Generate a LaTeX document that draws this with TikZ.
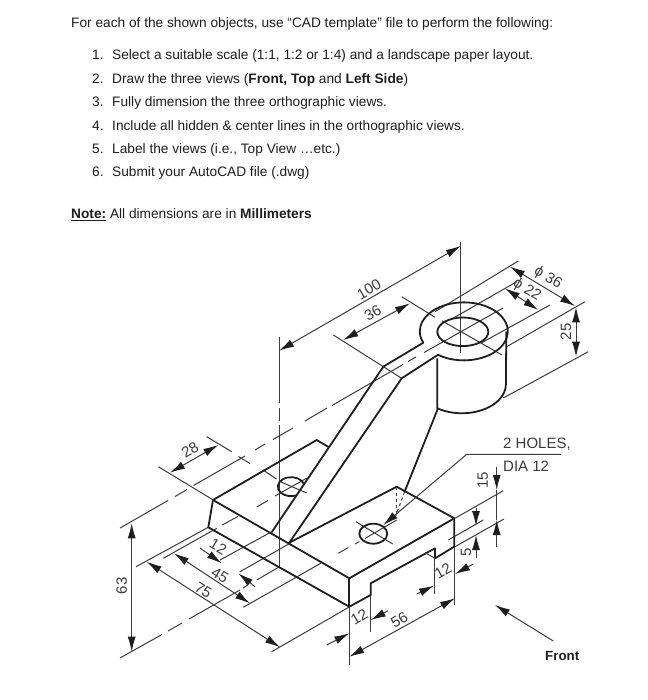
\documentclass[tikz,border=0pt]{standalone}
\usepackage{fontspec}
\setmainfont{Liberation Sans}
\usetikzlibrary{arrows.meta}
\definecolor{inkc}{HTML}{1E1E1E}
\definecolor{dimc}{HTML}{3C3C3C}
\begin{document}
\begin{tikzpicture}[x=1pt,y=-1pt,>={Latex[length=15pt,width=8pt,color=inkc]}]
	\tikzstyle{every node}=[font=\fontsize{15}{16}\selectfont,inner sep=0pt,text=dimc]
	\tikzstyle{txt}=[font=\fontsize{13.7}{16}\selectfont,anchor=base west,text=inkc]
	\tikzstyle{obj}=[line width=1.8pt,color=inkc,line join=round]
	\tikzstyle{dimline}=[line width=1pt,color=dimc]
	\useasboundingbox (0,0) rectangle (647,700);
	\fill[white] (0,0) rectangle (647,700);

	% the task text
	\node[txt] (intro) at (71,27.5) {For each of the shown objects, use “CAD template” file to perform the following:};
	\node[txt] (num1) at (92,59.5) {1.};
	\node[txt] (item1) at (112,59.5) {Select a suitable scale (1:1, 1:2 or 1:4) and a landscape paper layout.};
	\node[txt] (num2) at (92,83.5) {2.};
	\node[txt] (item2) at (112,83.5) {Draw the three views (\textbf{Front, Top} and \textbf{Left Side})};
	\node[txt] (num3) at (92,107) {3.};
	\node[txt] (item3) at (112,107) {Fully dimension the three orthographic views.};
	\node[txt] (num4) at (92,130.5) {4.};
	\node[txt] (item4) at (112,130.5) {Include all hidden \& center lines in the orthographic views.};
	\node[txt] (num5) at (92,154) {5.};
	\node[txt] (item5) at (112,154) {Label the views (i.e., Top View …etc.)};
	\node[txt] (num6) at (92,177) {6.};
	\node[txt] (item6) at (112,177) {Submit your AutoCAD file (.dwg)};
	\node[txt] (note) at (71,218.5) {\textbf{\underline{Note:}} All dimensions are in \textbf{Millimeters}};

	% center and extension lines
	\draw[dimline] (460.7,241.7) -- (460.7,353);
	\draw[dimline] (279,337) -- (279,403) (279,408) -- (279,421) (279,425) -- (279,566.5);
	\draw[dimline] (120,528) -- (168,500.5) (175,496.5) -- (187,489.5) (193.5,485.5) -- (245,456) (255,450) -- (265,444)
		(273,439.5) -- (293,428) (305,421) -- (327,408) (332,405.5) -- (403,364.5) (408,361.5) -- (416,357) (424,352.5) -- (503,308);
	\draw[dimline] (120,658) -- (162,634.5) (168,631) -- (182,623) (189,619) -- (240,590) (243,588) -- (247,585.5) (256.7,580) -- (279,567);
	\draw[dimline] (163.3,558.3) -- (216.7,528.3) (222,525) -- (238,516.5) (256.7,507) -- (268,500.5) (275,496) -- (307,478);
	\draw[dimline] (136,566.7) -- (208.3,527.3);
	\draw[dimline] (243.3,607.3) -- (320.7,563.3) (338.3,553.3) -- (348.3,547.5) (355,544) -- (359.3,541.5) (365,538.5) -- (396.7,520);
	\draw[dimline] (220,560) -- (271.7,531.7) (240,571.7) -- (290,543.3);
	\draw[dimline] (158.3,466.7) -- (213.3,500);
	\draw[dimline] (206.7,436.7) -- (231.7,451.7) (238.5,456.5) -- (250,463.5) (263,470) -- (276.5,479) (281,482) -- (306.7,493);
	\draw[dimline] (356,521.7) -- (392.7,544);
	\draw[dimline] (271.7,651.7) -- (349.3,607);
	\draw[dimline] (349.3,606.7) -- (349.3,665) (370.7,595) -- (370.7,631.7) (434,558) -- (434,594) (454.3,546.7) -- (454.3,605);
	\draw[dimline] (455,518.3) -- (503.3,490.7) (455,546.7) -- (504,519) (448.3,540) -- (483.3,520);
	\draw[dimline] (333.3,335) -- (401.7,378.3) (401.7,296.7) -- (435,317.3) (441.7,320.7) -- (502,355);
	\draw[dimline] (435,311.7) -- (518.3,261) (450,320) -- (516.7,281.7) (481.7,342.7) -- (550,305);
	\draw[dimline] (506.7,346.7) -- (585,301.7) (503.3,398) -- (588.3,351.7);

	% dimension arrows
	\draw[dimline,<->] (279,350.7) -- (460.7,246);
	\draw[dimline,<->] (343.3,340) -- (410,303.3);
	\draw[dimline,<->] (510,266.7) -- (575,306);
	\draw[dimline,<->] (505,288.3) -- (538.3,310);
	\draw[dimline,<->] (576,307.3) -- (576,356.7);
	\draw[dimline,<->] (170,472.7) -- (218.3,445);
	\draw[dimline,<->] (131.7,523.3) -- (131.7,651.7);
	\draw[dimline,<->] (146.7,561.7) -- (280,647.3);
	\draw[dimline,<->] (174,553.3) -- (250,603.3);
	\draw[dimline,->] (200,548) -- (221.7,563.3);
	\draw[dimline,->] (255,586.7) -- (238.3,573.3);
	\draw[dimline,<->] (349.3,656.7) -- (455,598.3);
	\draw[dimline,->] (326.7,645) -- (349.3,633.3);
	\draw[dimline,->] (388,610.7) -- (370.7,620);
	\draw[dimline,->] (416.7,594) -- (434,585.7);
	\draw[dimline,->] (473.3,564) -- (455,574);
	\draw[dimline,->] (496.7,466.7) -- (496.7,490);
	\draw[dimline,->] (496.7,546.7) -- (496.7,520);
	\draw[dimline] (496.7,490) -- (496.7,520);
	\draw[dimline,->] (476,508) -- (476,526);
	\draw[dimline,->] (476,558.3) -- (476,535);
	\draw[dimline,->] (561,454.3) -- (466.7,454.3) -- (383.3,525);
	\draw[dimline,->] (553.3,641) -- (495,605);

	% the base plate
	\draw[obj] (329,447.3) -- (316.7,440) -- (213,500) -- (349.3,578.3) -- (454.3,518.3) -- (396.7,486.7) -- (289.3,542.7);
	\draw[obj] (213,500) -- (208.3,527.3) -- (349.3,606.7) -- (370.7,595) -- (370.7,583.3) -- (435,548.3) -- (435,558.3) -- (454.3,546.7) -- (454.3,518.3);
	\draw[obj] (349.3,578.3) -- (349.3,606.7);
	\draw[dimline] (425,552.7) -- (435,558.3);
	% the rib and the hub
	\draw[obj] (271.7,532.2) -- (383.3,366.7) -- (423.3,342.7) arc[start angle=203,end angle=-126,x radius=44pt,y radius=29pt] -- (401.7,378.3) -- (289.3,542.7);
	\draw[obj] (437.3,358.3) -- (437.3,408.3) arc[start angle=236,end angle=360,x radius=44pt,y radius=29pt] -- (506.3,331.7);
	\draw[obj] (438,408.3) -- (404.5,492);
	\draw[dimline,dashed] (404.5,492) -- (395,518);
	\draw[dimline,dashed] (396.7,486.7) -- (396.7,517);
	\draw[obj] (462.8,331.8) ellipse[x radius=25.5pt,y radius=14.3pt];
	% the holes
	\draw[obj] (373.3,533.7) ellipse[x radius=14pt,y radius=10pt];
	\draw[obj] (304,484.2) arc[start angle=15,end angle=295,x radius=13.3pt,y radius=9.5pt];

	% the dimension texts
	\node[rotate=30] (d100) at (369,289.3) {100};
	\node[rotate=30] (d36) at (372.7,313.3) {36};
	\node[rotate=-31] (dia36) at (548,278) {ϕ 36};
	\node[rotate=-31] (dia22) at (527,290) {ϕ 22};
	\node[rotate=90] (d25) at (566,331.7) {25};
	\node[rotate=30] (d28) at (190,450) {28};
	\node[rotate=90] (d63) at (121.7,585.7) {63};
	\node[rotate=-31] (d75) at (203.3,590) {75};
	\node[rotate=-31] (d45) at (220,575) {45};
	\node[rotate=-31] (d12a) at (218.3,546.7) {12};
	\node[rotate=30] (d56) at (399.3,620) {56};
	\node[rotate=30] (d12b) at (359.3,617) {12};
	\node[rotate=30] (d12c) at (443,570.7) {12};
	\node[rotate=90] (d15) at (482.7,480) {15};
	\node[rotate=90] (d5) at (466,552.3) {5};
	\node[anchor=base west] (holes) at (503,448) {2 HOLES,};
	\node[anchor=base west] (dia) at (503,471.5) {DIA 12};
	\node[anchor=base west,font=\fontsize{13.3}{16}\bfseries\selectfont,text=inkc] (front) at (545,660) {Front};
\end{tikzpicture}
\end{document}
